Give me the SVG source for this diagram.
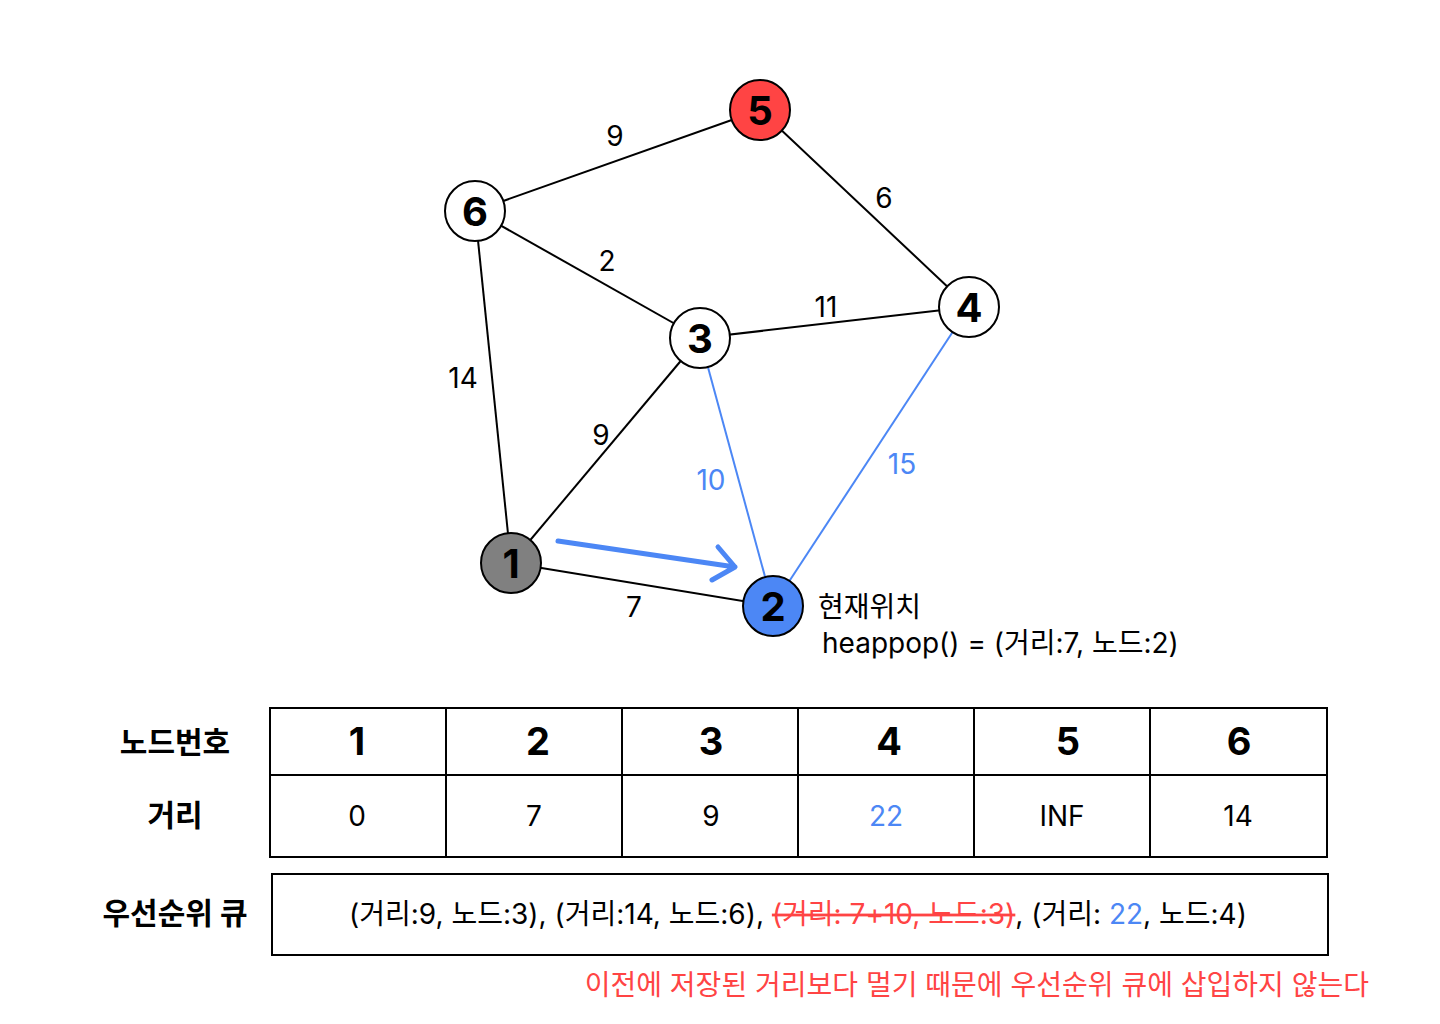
<svg xmlns="http://www.w3.org/2000/svg" width="1440" height="1024" viewBox="0 0 1440 1024">
<style>
text{font-family:Inter,"Noto Sans CJK KR",sans-serif;fill:#000}
.n{font-size:40px;font-weight:700;text-anchor:middle;dominant-baseline:central}
.w{font-size:28px;text-anchor:middle}
.b{fill:#4C87F5}
.r{fill:#FF4444}
.e{stroke:#000;stroke-width:2;fill:none}
.eb{stroke:#4C87F5;stroke-width:2;fill:none}
.c{stroke:#000;stroke-width:2}
.h{font-size:38px;font-weight:700;text-anchor:middle}
.t{font-size:28px;text-anchor:middle}
.lab{font-size:30px;font-weight:700;text-anchor:middle}
</style>
<rect width="1440" height="1024" fill="#fff"/>
<g id="edges">
<line class="e" x1="475" y1="211" x2="760" y2="110"/>
<line class="e" x1="760" y1="110" x2="969" y2="307"/>
<line class="e" x1="475" y1="211" x2="700" y2="338"/>
<line class="e" x1="700" y1="338" x2="969" y2="307"/>
<line class="e" x1="475" y1="211" x2="511" y2="563"/>
<line class="e" x1="700" y1="338" x2="511" y2="563"/>
<line class="e" x1="511" y1="563" x2="773" y2="606"/>
<line class="eb" x1="700" y1="338" x2="773" y2="606"/>
<line class="eb" x1="969" y1="307" x2="773" y2="606"/>
<path d="M558 541 L735 567 M718 547 L735 567 L712 580" stroke="#4C87F5" stroke-width="5" fill="none" stroke-linecap="round" stroke-linejoin="round"/>
<text class="w" x="615" y="146">9</text>
<text class="w" x="884" y="208">6</text>
<text class="w" x="607" y="271">2</text>
<text class="w" x="826" y="317">11</text>
<text class="w" x="463" y="388">14</text>
<text class="w" x="601" y="445">9</text>
<text class="w b" x="711" y="490">10</text>
<text class="w b" x="902" y="474">15</text>
<text class="w" x="634" y="617">7</text>
</g>
<g id="node5"><circle class="c" cx="760" cy="110" r="30" fill="#FF4444"/><text class="n" x="760" y="110">5</text></g>
<g id="node6"><circle class="c" cx="475" cy="211" r="30" fill="#fff"/><text class="n" x="475" y="211">6</text></g>
<g id="node3"><circle class="c" cx="700" cy="338" r="30" fill="#fff"/><text class="n" x="700" y="338">3</text></g>
<g id="node4"><circle class="c" cx="969" cy="307" r="30" fill="#fff"/><text class="n" x="969" y="307">4</text></g>
<g id="node1"><circle class="c" cx="511" cy="563" r="30" fill="#808080"/><text class="n" x="511" y="563">1</text></g>
<g id="node2"><circle class="c" cx="773" cy="606" r="30" fill="#4C87F5"/><text class="n" x="773" y="606">2</text></g>
<g id="caption">
<text x="818" y="617" font-size="28">현재위치</text>
<text x="822" y="653" font-size="28">heappop() = (거리:7, 노드:2)</text>
</g>
<g id="table">
<rect x="270" y="708" width="1057" height="149" fill="none" stroke="#000" stroke-width="2"/>
<line class="c" x1="270" y1="775" x2="1327" y2="775"/>
<line class="c" x1="446" y1="708" x2="446" y2="857"/>
<line class="c" x1="622" y1="708" x2="622" y2="857"/>
<line class="c" x1="798" y1="708" x2="798" y2="857"/>
<line class="c" x1="974" y1="708" x2="974" y2="857"/>
<line class="c" x1="1150" y1="708" x2="1150" y2="857"/>
<text class="lab" x="175" y="753">노드번호</text>
<text class="lab" x="175" y="826">거리</text>
<text class="h" x="357" y="755">1</text>
<text class="h" x="538" y="755">2</text>
<text class="h" x="711" y="755">3</text>
<text class="h" x="889" y="755">4</text>
<text class="h" x="1068" y="755">5</text>
<text class="h" x="1239" y="755">6</text>
<text class="t" x="357" y="826">0</text>
<text class="t" x="534" y="826">7</text>
<text class="t" x="711" y="826">9</text>
<text class="t b" x="886" y="826">22</text>
<text class="t" x="1062" y="826">INF</text>
<text class="t" x="1238" y="826">14</text>
</g>
<g id="queue">
<rect x="272" y="874" width="1056" height="81" fill="none" stroke="#000" stroke-width="2"/>
<text class="lab" x="175" y="924">우선순위 큐</text>
<text class="t" x="798" y="924">(거리:9, 노드:3), (거리:14, 노드:6), <tspan class="r" text-decoration="line-through">(거리: 7+10, 노드:3)</tspan>, (거리: <tspan class="b">22</tspan>, 노드:4)</text>
<text x="1369" y="995" font-size="28" text-anchor="end" class="r">이전에 저장된 거리보다 멀기 때문에 우선순위 큐에 삽입하지 않는다</text>
</g>
</svg>
